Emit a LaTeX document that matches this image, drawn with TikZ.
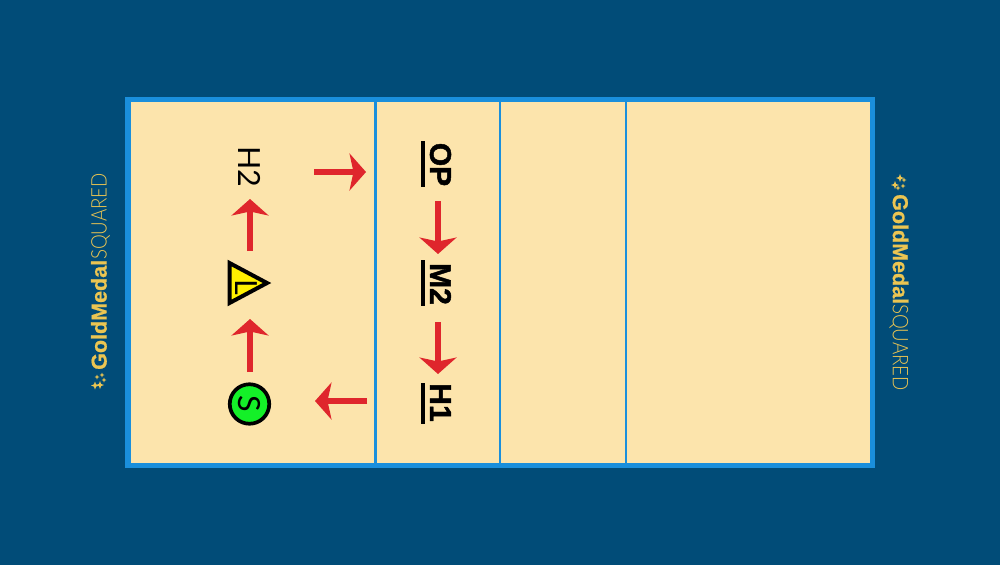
\documentclass[tikz,border=0pt]{standalone}
\usepackage{fontspec}
\setmainfont{Liberation Sans}
\newfontfamily\heavyfont[FakeBold=1.6]{Liberation Sans Bold}
\newfontfamily\logoheavy[FakeBold=0.8]{Liberation Sans Bold}
\newfontfamily\sqfont[FakeStretch=0.87]{Lato Light}
\newfontfamily\thinfont{Lato}
\usetikzlibrary{arrows.meta,shapes.geometric}
\definecolor{bgblue}{HTML}{014C78}
\definecolor{court}{HTML}{FCE4AC}
\definecolor{line}{HTML}{1A8FDC}
\definecolor{arrowred}{HTML}{DF262C}
\definecolor{logo}{HTML}{EBC552}
\definecolor{sgreen}{HTML}{14F028}
\definecolor{lyellow}{HTML}{FFF000}
\tikzset{
  courtline/.style={draw=line,line width=2.9pt},
  move/.style={draw=arrowred,line width=5.4pt,-{Stealth[length=16.5pt,width=37pt,inset=4pt,color=arrowred]}},
  front/.style={font=\heavyfont\fontsize{30}{30}\selectfont,rotate=-90,inner sep=0pt,anchor=center},
  back/.style={font=\thinfont\fontsize{30.5}{30.5}\selectfont,rotate=-90,inner sep=0pt,anchor=center},
  under/.style={line width=3.2pt,draw=black},
  logotext/.style={text=logo,font=\fontsize{21.5}{21.5}\selectfont,inner sep=0pt},
  spark/.style={fill=logo,star,star points=4,star point ratio=2.6,minimum size=5pt,inner sep=0pt},
  sparkbig/.style={spark,minimum size=8pt},
}
\begin{document}
\begin{tikzpicture}[x=1pt,y=-1pt]
\useasboundingbox (0,0) rectangle (1000,565);
\fill[bgblue] (0,0) rectangle (1000,565);
\draw[fill=court,draw=line,line width=5.5pt] (128,99.5) rectangle (872.5,465.5);
\draw[courtline] (375.8,100) -- (375.8,465);
\draw[courtline] (500,100) -- (500,465);
\draw[courtline] (626,100) -- (626,465);
% back row
\node[back] (h2) at (249.5,167) {H2};
\node[draw=black,line width=3.7pt,fill=sgreen,circle,minimum size=39.5pt,inner sep=0pt] (s) at (249.5,404) {};
\node[back] (sl) at (249.5,404) {S};
\path[draw=black,line width=4pt,fill=lyellow,line join=miter] (229.5,263) -- (267,283) -- (229.5,303) -- cycle;
\node[back] (l) at (246,287.3) {L};
% front row
\node[front] (op) at (440.5,164.5) {OP};
\node[front] (m2) at (440.5,284) {M2};
\node[front] (h1) at (440.5,402.5) {H1};
\draw[under] (423,141) -- (423,187);
\draw[under] (423,260) -- (423,306);
\draw[under] (423,383) -- (423,424);
% arrows
\coordinate (a1) at (314,172); \coordinate (a2) at (366,172);
\coordinate (b1) at (367,401); \coordinate (b2) at (315,401);
\coordinate (c1) at (250,251); \coordinate (c2) at (250,199);
\coordinate (d1) at (250,372); \coordinate (d2) at (250,319);
\coordinate (e1) at (438,201); \coordinate (e2) at (438,254);
\coordinate (f1) at (438,322); \coordinate (f2) at (438,374);
\draw[move] (a1) -- (a2);
\draw[move] (b1) -- (b2);
\draw[move] (c1) -- (c2);
\draw[move] (d1) -- (d2);
\draw[move] (e1) -- (e2);
\draw[move] (f1) -- (f2);
% logos
\node[logotext,rotate=90,anchor=west] (logoL) at (100.5,370) {{\logoheavy GoldMedal}{\sqfont SQUARED}};
\node[logotext,rotate=-90,anchor=west] (logoR) at (899,194) {{\logoheavy GoldMedal}{\sqfont SQUARED}};
\node[sparkbig] at (95,385.5) {};
\node[sparkbig] at (100,385) {};
\node[spark] at (104,380) {};
\node[spark] at (97,377) {};
\node[spark] at (102,375) {};
\node[sparkbig] at (895,185) {};
\node[sparkbig] at (900,178) {};
\node[spark] at (904,180) {};
\node[spark] at (898,188) {};
\node[spark] at (903,186) {};
\end{tikzpicture}
\end{document}
